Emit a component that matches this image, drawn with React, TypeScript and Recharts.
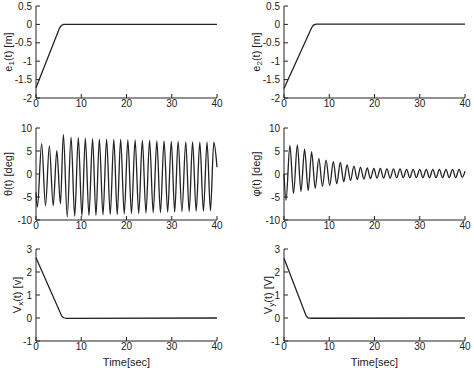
import React from "react";
import { LineChart, Line, XAxis, YAxis } from "recharts";

// time ticks shared by every panel
const timeTicks = [0, 10, 20, 30, 40];
const eTicks = [-2, -1.5, -1, -0.5, 0, 0.5];
const angleTicks = [-10, -5, 0, 5, 10];
const vTicks = [-1, 0, 1, 2, 3];

// [t, value]
const e1Points: [number, number][] = [
  [0, -1.72], [5.2, -0.1], [5.6, -0.03], [6.1, 0], [40, 0],
];
const e2Points: [number, number][] = [
  [0, -1.74], [6.1, -0.09], [6.5, -0.02], [7.1, 0.01], [40, 0.01],
];
// peaks and troughs of theta
const thetaPoints: [number, number][] = [
  [0, -4], [0.3, -7.2], [1.25, 6.6], [2.1, -6.9], [2.95, 6.1], [3.8, -6.9],
  [4.6, 5.1], [5.4, -6.5], [6.05, 8.6], [6.9, -9.3], [7.75, 8.0], [8.55, -9.2],
  [9.35, 7.9], [10.15, -9.1], [10.9, 7.8], [11.7, -9.0], [12.5, 7.7], [13.25, -9.0],
  [14.0, 7.6], [14.8, -8.9], [15.6, 7.6], [16.4, -8.8], [17.2, 7.5], [17.95, -8.8],
  [18.7, 7.5], [19.5, -8.7], [20.3, 7.4], [21.1, -8.6], [21.9, 7.4], [22.7, -8.6],
  [23.5, 7.3], [24.3, -8.5], [25.1, 7.3], [25.9, -8.4], [26.7, 7.2], [27.5, -8.4],
  [28.3, 7.2], [29.1, -8.3], [29.9, 7.1], [30.65, -8.3], [31.4, 7.1], [32.25, -8.2],
  [33.1, 7.0], [33.85, -8.2], [34.6, 7.0], [35.4, -8.1], [36.2, 6.9], [37.0, -8.1],
  [37.8, 6.9], [38.55, -8.0], [39.3, 6.9], [40, 1.5],
];
// peaks and troughs of phi
const phiPoints: [number, number][] = [
  [0, 0], [0.45, -5.7], [1.3, 6.2], [2.1, -4.2], [2.95, 6.3], [3.75, -3.8],
  [4.55, 5.4], [5.35, -3.6], [6.1, 4.8], [6.9, -3.1], [7.7, 3.4], [8.5, -2.7],
  [9.3, 3.0], [10.1, -2.5], [10.9, 2.7], [11.65, -2.1], [12.45, 2.5], [13.2, -1.7],
  [13.95, 2.0], [14.7, -1.4], [15.45, 1.7], [16.2, -1.2], [16.9, 1.5], [17.65, -1.1],
  [18.4, 1.3], [19.1, -1.0], [19.85, 1.2], [20.55, -0.9], [21.3, 1.2], [22.0, -0.9],
  [22.75, 1.1], [23.45, -0.9], [24.2, 1.1], [24.9, -0.8], [25.65, 1.1], [26.35, -0.8],
  [27.1, 1.0], [27.8, -0.8], [28.55, 1.0], [29.25, -0.8], [30.0, 1.0], [30.7, -0.8],
  [31.45, 1.0], [32.15, -0.8], [32.9, 1.0], [33.6, -0.8], [34.35, 1.0], [35.05, -0.8],
  [35.8, 1.0], [36.5, -0.8], [37.25, 1.0], [37.95, -0.8], [38.7, 1.0], [39.4, -0.7], [40, 0.6],
];
const vxPoints: [number, number][] = [
  [0, 2.62], [5.7, 0.08], [6.1, 0.01], [6.8, -0.02], [40, 0],
];
const vyPoints: [number, number][] = [
  [0, 2.6], [4.9, 0.09], [5.3, 0.01], [6.0, -0.01], [40, 0],
];

const toRows = (pts: [number, number][]) => pts.map(([t, v]) => ({ t, v }));

const PLOT_W = 181;
const PLOT_H = 92;
const ML = 40;
const MT = 6;
const MR = 10;
const MB = 30;
const FONT = "'Liberation Sans', Arial, sans-serif";
const INK = "#222";

type PanelProps = {
  x: number;
  y: number;
  points: [number, number][];
  domain: [number, number];
  ticks: number[];
  main: string;
  sub?: string;
  rest: string;
  labelGap: number;
  curve: "linear" | "monotone";
  timeLabel?: boolean;
};

function Panel({ x, y, points, domain, ticks, main, sub, rest, labelGap, curve, timeLabel }: PanelProps) {
  const lx = ML - labelGap;
  const ly = MT + PLOT_H / 2;
  const tick = { fontSize: 10, fill: INK, fontFamily: FONT };
  return (
    <div style={{ position: "absolute", left: x - ML, top: y - MT }}>
      <LineChart
        width={ML + PLOT_W + MR}
        height={MT + PLOT_H + MB}
        data={toRows(points)}
        margin={{ top: MT, right: MR, bottom: 0, left: 0 }}
      >
        <XAxis
          xAxisId="b"
          type="number"
          dataKey="t"
          domain={[0, 40]}
          ticks={timeTicks}
          height={MB}
          tick={tick}
          tickSize={-4}
          tickMargin={6}
          stroke={INK}
          label={
            timeLabel
              ? { value: "Time[sec]", position: "insideBottom", offset: 5, fontSize: 11, fill: INK, fontFamily: FONT }
              : undefined
          }
        />
        <XAxis
          xAxisId="t"
          orientation="top"
          type="number"
          dataKey="t"
          domain={[0, 40]}
          ticks={timeTicks}
          height={0}
          tickSize={-4}
          tickFormatter={() => ""}
          stroke={INK}
        />
        <YAxis
          yAxisId="l"
          type="number"
          domain={domain}
          ticks={ticks}
          width={ML}
          tick={tick}
          tickSize={-4}
          tickMargin={8}
          stroke={INK}
          label={{
            content: () => (
              <text
                x={lx}
                y={ly}
                transform={`rotate(-90 ${lx} ${ly})`}
                textAnchor="middle"
                dominantBaseline="central"
                fontSize={11}
                fill={INK}
                fontFamily={FONT}
              >
                {main}
                {sub ? (
                  <>
                    <tspan dy={3} fontSize={8}>{sub}</tspan>
                    <tspan dy={-3}>{rest}</tspan>
                  </>
                ) : (
                  rest
                )}
              </text>
            ),
          }}
        />
        <YAxis
          yAxisId="r"
          orientation="right"
          type="number"
          domain={domain}
          ticks={ticks}
          width={0}
          tickSize={-4}
          tickFormatter={() => ""}
          stroke={INK}
        />
        <Line
          xAxisId="b"
          yAxisId="l"
          dataKey="v"
          type={curve}
          stroke={INK}
          strokeWidth={1.3}
          dot={false}
          isAnimationActive={false}
        />
      </LineChart>
    </div>
  );
}

export default function App() {
  return (
    <div style={{ position: "absolute", left: 0, top: 0, width: 474, height: 370, background: "#fff" }}>
      <Panel x={36} y={6} points={e1Points} domain={[-2, 0.5]} ticks={eTicks} main="e" sub="1" rest="(t) [m]" labelGap={28} curve="linear" />
      <Panel x={284} y={6} points={e2Points} domain={[-2, 0.5]} ticks={eTicks} main="e" sub="2" rest="(t) [m]" labelGap={28} curve="linear" />
      <Panel x={36} y={128} points={thetaPoints} domain={[-10, 10]} ticks={angleTicks} main="θ" rest="(t) [deg]" labelGap={28} curve="monotone" />
      <Panel x={284} y={128} points={phiPoints} domain={[-10, 10]} ticks={angleTicks} main="φ" rest="(t) [deg]" labelGap={28} curve="monotone" />
      <Panel x={36} y={249} points={vxPoints} domain={[-1, 3]} ticks={vTicks} main="V" sub="x" rest="(t) [v]" labelGap={19} curve="linear" timeLabel />
      <Panel x={284} y={249} points={vyPoints} domain={[-1, 3]} ticks={vTicks} main="V" sub="y" rest="(t) [V]" labelGap={16} curve="linear" timeLabel />
    </div>
  );
}
